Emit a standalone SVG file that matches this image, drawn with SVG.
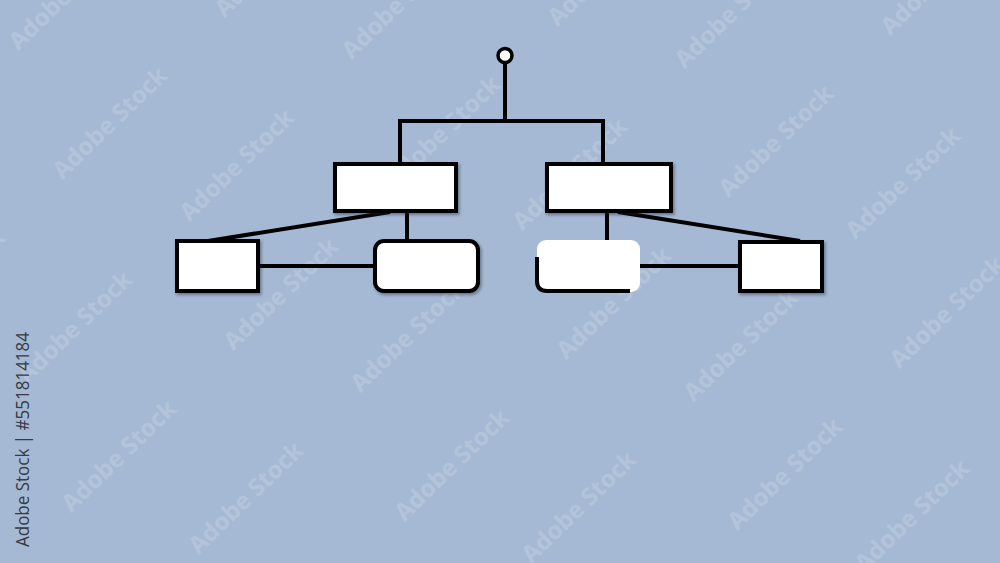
<svg xmlns="http://www.w3.org/2000/svg" width="1000" height="563" viewBox="0 0 1000 563">
<defs>
<filter id="sh" x="-20%" y="-20%" width="140%" height="150%">
<feDropShadow dx="1.5" dy="2" stdDeviation="1.5" flood-color="#1a2030" flood-opacity="0.45"/>
</filter>
</defs>
<style>
.bg{fill:#a6b9d4}
.box{fill:#fff;stroke:#000;stroke-width:4;filter:url(#sh)}
.fillonly{fill:#fff}
.ln{fill:none;stroke:#000;stroke-width:4;stroke-linecap:butt}
.wm{font-family:"Open Sans","Liberation Sans",sans-serif;font-weight:bold;font-size:24px;fill:#fff;fill-opacity:0.18;text-anchor:middle}
.id{font-family:"Open Sans","Liberation Sans",sans-serif;font-size:19px;fill:#363b44}
</style>
<rect class="bg" x="0" y="0" width="1000" height="563"/>

<g id="watermarks">
<text class="wm" transform="translate(110,123) rotate(-44)" dy="8">Adobe Stock</text>
<text class="wm" transform="translate(443,132) rotate(-44)" dy="8">Adobe Stock</text>
<text class="wm" transform="translate(776,141) rotate(-44)" dy="8">Adobe Stock</text>
<text class="wm" transform="translate(119,456) rotate(-44)" dy="8">Adobe Stock</text>
<text class="wm" transform="translate(452,465) rotate(-44)" dy="8">Adobe Stock</text>
<text class="wm" transform="translate(785,474) rotate(-44)" dy="8">Adobe Stock</text>
<text class="wm" transform="translate(237,165) rotate(-44)" dy="8">Adobe Stock</text>
<text class="wm" transform="translate(570,174) rotate(-44)" dy="8">Adobe Stock</text>
<text class="wm" transform="translate(903,183) rotate(-44)" dy="8">Adobe Stock</text>
<text class="wm" transform="translate(246,498) rotate(-44)" dy="8">Adobe Stock</text>
<text class="wm" transform="translate(579,507) rotate(-44)" dy="8">Adobe Stock</text>
<text class="wm" transform="translate(912,516) rotate(-44)" dy="8">Adobe Stock</text>
<text class="wm" transform="translate(281,294) rotate(-44)" dy="8">Adobe Stock</text>
<text class="wm" transform="translate(614,303) rotate(-44)" dy="8">Adobe Stock</text>
<text class="wm" transform="translate(947,312) rotate(-44)" dy="8">Adobe Stock</text>
<text class="wm" transform="translate(-52,285) rotate(-44)" dy="8">Adobe Stock</text>
<text class="wm" transform="translate(272,-39) rotate(-44)" dy="8">Adobe Stock</text>
<text class="wm" transform="translate(605,-30) rotate(-44)" dy="8">Adobe Stock</text>
<text class="wm" transform="translate(938,-21) rotate(-44)" dy="8">Adobe Stock</text>
<text class="wm" transform="translate(408,336) rotate(-44)" dy="8">Adobe Stock</text>
<text class="wm" transform="translate(741,345) rotate(-44)" dy="8">Adobe Stock</text>
<text class="wm" transform="translate(75,327) rotate(-44)" dy="8">Adobe Stock</text>
<text class="wm" transform="translate(399,3) rotate(-44)" dy="8">Adobe Stock</text>
<text class="wm" transform="translate(732,12) rotate(-44)" dy="8">Adobe Stock</text>
<text class="wm" transform="translate(66,-6) rotate(-44)" dy="8">Adobe Stock</text>
</g>

<text class="id" transform="translate(29,547) rotate(-90)" textLength="215" lengthAdjust="spacingAndGlyphs">Adobe Stock | #551814184</text>

<g id="connectors">
<line class="ln" x1="505" y1="62" x2="505" y2="121"/>
<polyline class="ln" points="400,162 400,121 603,121 603,162"/>
<line class="ln" x1="390" y1="212" x2="208" y2="241"/>
<line class="ln" x1="407" y1="212" x2="407" y2="241"/>
<line class="ln" x1="258" y1="266" x2="375" y2="266"/>
<line class="ln" x1="607" y1="212" x2="607" y2="241"/>
<line class="ln" x1="618" y1="212" x2="800" y2="241"/>
<line class="ln" x1="640" y1="266" x2="740" y2="266"/>
</g>

<g id="root">
<circle cx="505" cy="55.5" r="7" fill="#fafaf5" stroke="#000" stroke-width="3.5"/>
</g>
<g id="node-top-left"><rect class="box" x="335" y="164" width="121" height="47"/></g>
<g id="node-top-right"><rect class="box" x="547" y="164" width="124" height="47"/></g>
<g id="node-bottom-1"><rect class="box" x="177" y="241" width="81" height="50"/></g>
<g id="node-bottom-2"><rect class="box" x="375" y="241" width="103" height="50" rx="9"/></g>
<g id="node-bottom-3">
<rect class="fillonly" x="537" y="240" width="103" height="52" rx="9"/>
<path class="ln" d="M537,257 V281 Q537,291 547,291 H630"/>
</g>
<g id="node-bottom-4"><rect class="box" x="740" y="242" width="82" height="49"/></g>
</svg>
